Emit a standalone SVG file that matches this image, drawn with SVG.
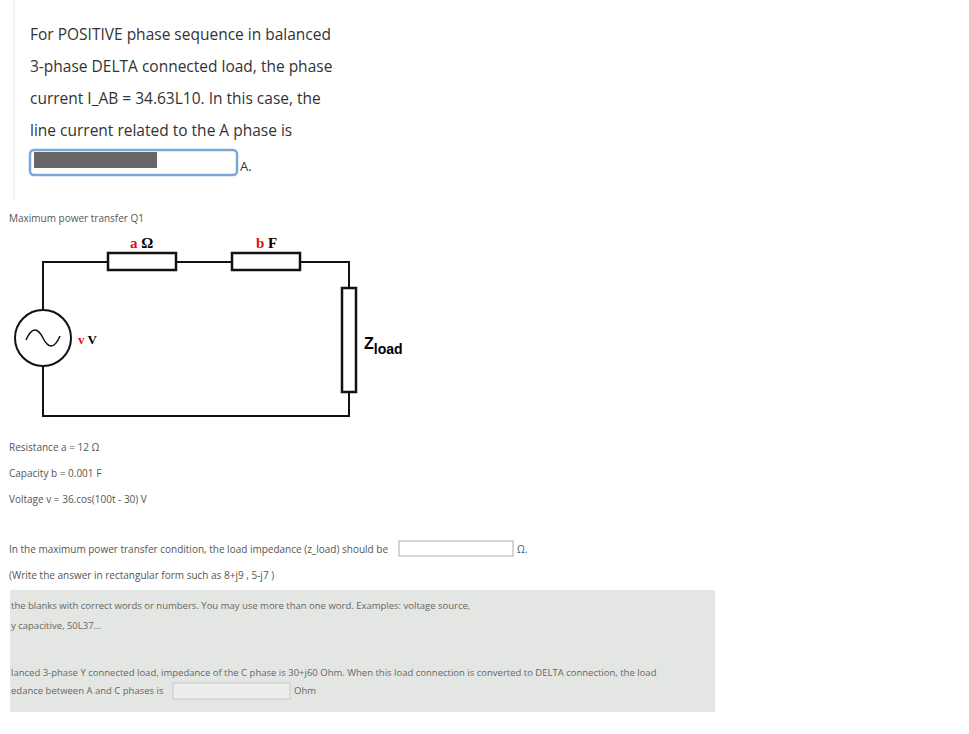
<svg xmlns="http://www.w3.org/2000/svg" width="969" height="734" viewBox="0 0 969 734">
<style>
.q{font-family:"Open Sans","Liberation Sans",sans-serif;font-size:15.5px;fill:#333}
.s{font-family:"Open Sans","Liberation Sans",sans-serif;font-size:10px;fill:#555}
.p{font-family:"Open Sans","Liberation Sans",sans-serif;font-size:9.5px;fill:#666}
.w{fill:none;stroke:#111;stroke-width:2}
.r{fill:#fff;stroke:#111;stroke-width:2.5}
.lb{font-family:"Liberation Serif",serif;font-weight:bold;font-size:15px}
</style>
<rect width="969" height="734" fill="#fff"/>
<line x1="14" y1="0" x2="14" y2="200" stroke="#e8e8e8"/>
<text class="q" x="30" y="40">For POSITIVE phase sequence in balanced</text>
<text class="q" x="30" y="72">3-phase DELTA connected load, the phase</text>
<text class="q" x="30" y="104">current I_AB = 34.63L10. In this case, the</text>
<text class="q" x="30" y="136">line current related to the A phase is</text>
<rect x="30" y="150" width="207" height="25" rx="4" fill="#fff" stroke="#7aa6d8" stroke-width="2.5"/>
<rect x="34" y="152" width="123" height="16" fill="#666"/>
<text class="q" x="240" y="171" style="font-size:13px">A.</text>
<text class="s" x="9" y="222">Maximum power transfer Q1</text>
<g id="connectors">
<path class="w" d="M43 310V262H108M176 262H232M300 262H349V288M349 392V416H43V366"/>
</g>
<g id="resistor_a"><rect class="r" x="108" y="253" width="68" height="17"/>
<text class="lb" x="130" y="248"><tspan fill="#e0101a">a</tspan> Ω</text></g>
<g id="capacitor_b"><rect class="r" x="232" y="253" width="68" height="17"/>
<text class="lb" x="256" y="248"><tspan fill="#e0101a">b</tspan> F</text></g>
<g id="source"><circle cx="43" cy="338" r="28" fill="#fff" stroke="#111" stroke-width="2"/>
<path d="M26 340C32 326 38 328 43 338S54 350 60 336" fill="none" stroke="#111" stroke-width="1.5"/>
<text class="lb" x="78" y="344" style="font-size:13px"><tspan fill="#e0101a">v</tspan>  V</text></g>
<g id="load"><rect class="r" x="342" y="288" width="14" height="104"/>
<text x="364" y="349" font-family="Liberation Sans,sans-serif" font-weight="bold" font-size="16">Z<tspan font-size="14" dy="5">load</tspan></text></g>
<text class="s" x="9" y="451">Resistance a = 12 Ω</text>
<text class="s" x="9" y="477">Capacity b =  0.001 F</text>
<text class="s" x="9" y="503">Voltage v = 36.cos(100t - 30) V</text>
<text class="s" x="9" y="553">In the maximum power transfer condition, the load impedance (z_load) should be</text>
<rect x="399" y="541" width="114" height="15" fill="#fff" stroke="#aaa"/>
<text class="s" x="517" y="553">Ω.</text>
<text class="s" x="9" y="579">(Write the answer in rectangular form such as  8+j9 , 5-j7 )</text>
<rect x="10" y="590" width="705" height="122" fill="#e3e6e3"/>
<text class="p" x="11" y="609">the blanks with correct words or numbers. You may use more than one word. Examples: voltage source,</text>
<text class="p" x="11" y="629">y capacitive, 50L37...</text>
<text class="p" x="11" y="676">lanced 3-phase Y connected load, impedance of the C phase is 30+j60 Ohm. When this load connection is converted to DELTA connection, the load</text>
<text class="p" x="11" y="694">edance between A and C phases is</text>
<rect x="173" y="683" width="117" height="16" fill="#eceeec" stroke="#c8c8c8"/>
<text class="p" x="294" y="694">Ohm</text>
</svg>
